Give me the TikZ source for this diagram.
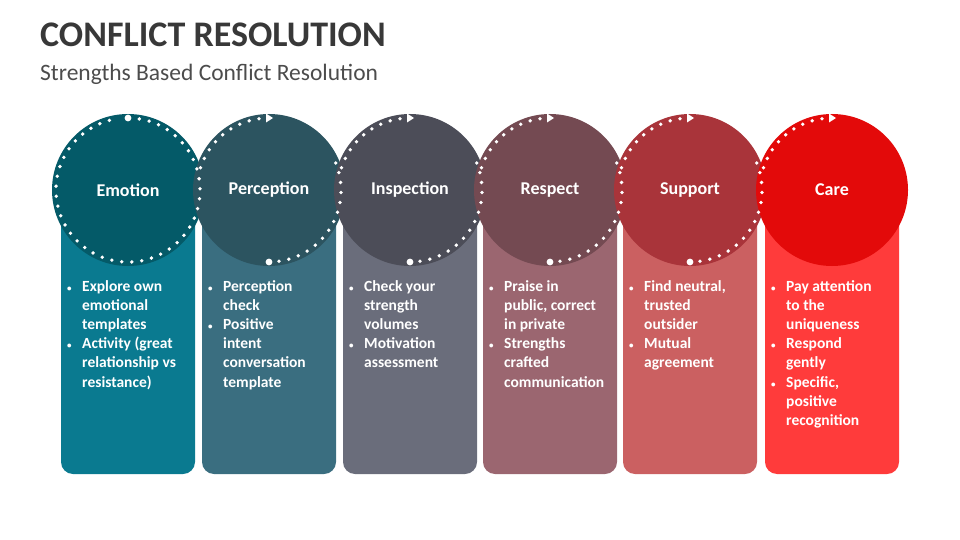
\documentclass[tikz,border=0pt]{standalone}
\usepackage{fontspec}
\setmainfont{Carlito}
\usetikzlibrary{calc}
\newcommand{\bl}[1]{\makebox[15pt][l]{\small\textbullet}#1\\}
\newcommand{\cl}[1]{\hspace*{15pt}#1\\}
\begin{document}
\begin{tikzpicture}[x=1pt,y=-1pt,
  card/.style={rounded corners=12pt, draw=none},
  circ/.style={circle, minimum size=152pt, inner sep=0pt, font=\bfseries\fontsize{18}{20}\selectfont, text=white},
  body/.style={anchor=north west, text=white, font=\bfseries\fontsize{15.5}{19.2}\selectfont, align=left, inner sep=0pt}]
\useasboundingbox (0,0) rectangle (960,540);
\node[anchor=west, inner sep=0pt, font=\bfseries\fontsize{36}{40}\selectfont, text=black!78] (title) at (40,35) {CONFLICT RESOLUTION};
\node[anchor=west, inner sep=0pt, font=\fontsize{23.5}{26}\selectfont, text=black!70] (sub) at (40,74) {Strengths Based Conflict Resolution};
\foreach \i/\cx/\cc/\ck/\lab/\txt in {
 0/128/0A7A90/045A68/Emotion/{\bl{Explore own}\cl{emotional}\cl{templates}\bl{Activity (great}\cl{relationship vs}\cl{resistance)}},
 1/269/3A6E80/2C5460/Perception/{\bl{Perception}\cl{check}\bl{Positive}\cl{intent}\cl{conversation}\cl{template}},
 2/410/6A6D7B/4C4D58/Inspection/{\bl{Check your}\cl{strength}\cl{volumes}\bl{Motivation}\cl{assessment}},
 3/550/9B6670/744A52/Respect/{\bl{Praise in}\cl{public, correct}\cl{in private}\bl{Strengths}\cl{crafted}\cl{communication}},
 4/690/CB6061/A9343A/Support/{\bl{Find neutral,}\cl{trusted}\cl{outsider}\bl{Mutual}\cl{agreement}},
 5/832/FF3B3B/E30A0A/Care/{\bl{Pay attention}\cl{to the}\cl{uniqueness}\bl{Respond}\cl{gently}\bl{Specific,}\cl{positive}\cl{recognition}}}{
  \definecolor{cc\i}{HTML}{\cc}\definecolor{ck\i}{HTML}{\ck}
  \fill[cc\i, card] (\cx-67,200) rectangle (\cx+67,474);
  \node[circ, fill=ck\i] (c\i) at (\cx,190) {\lab};
  \node[body] (b\i) at (\cx-61,280) {\txt};
}
\foreach \a in {279,287,...,620} \fill[white] ($(c0)+(\a:72)$) circle (1.9);
\fill[white] ($(c0)+(0,-72)$) circle (3.4);
\foreach \i in {1,...,5}{
  \foreach \a in {-98,-106,...,-162} \fill[white] ($(c\i)+(\a:72)$) circle (1.9);
  \fill[white] ($(c\i)+(4,-72)$) -- ++(-7,-4.5) -- ++(0,9) -- cycle;
}
\foreach \i in {1,...,4}{
  \foreach \a in {82,74,...,-22} \fill[white] ($(c\i)+(\a:72)$) circle (1.9);
  \fill[white] ($(c\i)+(0,72)$) circle (3.4);
}
\end{tikzpicture}
\end{document}
